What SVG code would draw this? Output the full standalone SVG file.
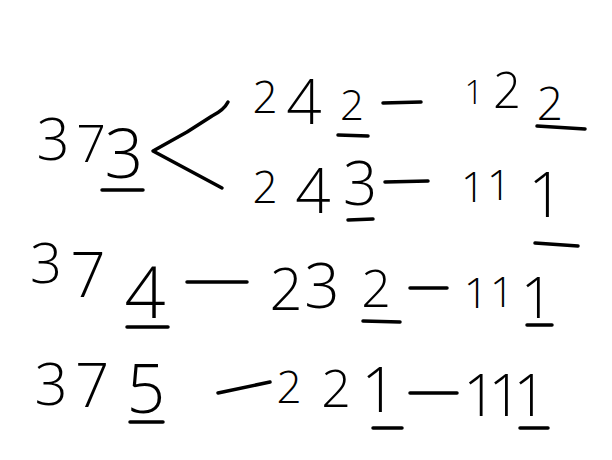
<svg xmlns="http://www.w3.org/2000/svg" width="612" height="460" viewBox="0 0 612 460">
<style>
text{font-family:"Open Sans","Liberation Sans",sans-serif;font-weight:300;fill:#000;text-anchor:middle}
.s{stroke:#000;stroke-width:3.5;stroke-linecap:round;stroke-linejoin:round;fill:none}
</style>
<rect width="612" height="460" fill="#fff"/>
<g id="row1">
<text x="53" y="160" font-size="58">3</text>
<text x="91" y="162" font-size="52">7</text>
<text x="124" y="178" font-size="68">3</text>
<text x="265" y="113" font-size="44">2</text>
<text x="304" y="124" font-size="62">4</text>
<text x="352" y="120" font-size="42">2</text>
<text x="474" y="104" font-size="33">1</text>
<text x="507" y="108" font-size="49">2</text>
<text x="550" y="120" font-size="46">2</text>
</g>
<g id="row2">
<text x="265" y="203" font-size="44">2</text>
<text x="313" y="213" font-size="62">4</text>
<text x="360" y="205" font-size="60">3</text>
<text x="473" y="202" font-size="42">1</text>
<text x="499" y="200" font-size="42">1</text>
<text x="546" y="217" font-size="62">1</text>
</g>
<g id="row3">
<text x="46" y="283" font-size="56">3</text>
<text x="88" y="297" font-size="62">7</text>
<text x="145" y="318" font-size="72">4</text>
<text x="286" y="310" font-size="58">2</text>
<text x="322" y="308" font-size="62">3</text>
<text x="376" y="307" font-size="52">2</text>
<text x="476" y="308" font-size="43">1</text>
<text x="502" y="307" font-size="42">1</text>
<text x="537" y="318" font-size="57">1</text>
</g>
<g id="row4">
<text x="51" y="405" font-size="58">3</text>
<text x="92" y="407" font-size="60">7</text>
<text x="146" y="413" font-size="68">5</text>
<text x="289" y="403" font-size="44">2</text>
<text x="336" y="407" font-size="52">2</text>
<text x="379" y="412" font-size="62">1</text>
<text x="501" y="416" font-size="58" letter-spacing="-8">111</text>
</g>
<g id="connectors">
<path class="s" d="M228,102 Q224,110 212,116 L187,132 L153,151 L222,188"/>
<line class="s" x1="102" y1="190" x2="143" y2="190"/>
<line class="s" x1="338" y1="135" x2="368" y2="136"/>
<line class="s" x1="383" y1="103" x2="421" y2="102"/>
<line class="s" x1="537" y1="126" x2="585" y2="129"/>
<line class="s" x1="348" y1="220" x2="373" y2="219"/>
<line class="s" x1="385" y1="182" x2="428" y2="181"/>
<line class="s" x1="535" y1="243" x2="578" y2="246"/>
<line class="s" x1="127" y1="327" x2="168" y2="327"/>
<line class="s" x1="187" y1="282" x2="247" y2="282"/>
<line class="s" x1="363" y1="321" x2="400" y2="322"/>
<line class="s" x1="410" y1="288" x2="447" y2="288"/>
<line class="s" x1="527" y1="325" x2="552" y2="325"/>
<line class="s" x1="130" y1="422" x2="163" y2="422"/>
<line class="s" x1="218" y1="393" x2="270" y2="382"/>
<line class="s" x1="373" y1="428" x2="402" y2="428"/>
<line class="s" x1="410" y1="393" x2="457" y2="393"/>
<line class="s" x1="520" y1="428" x2="548" y2="428"/>
</g>
</svg>
